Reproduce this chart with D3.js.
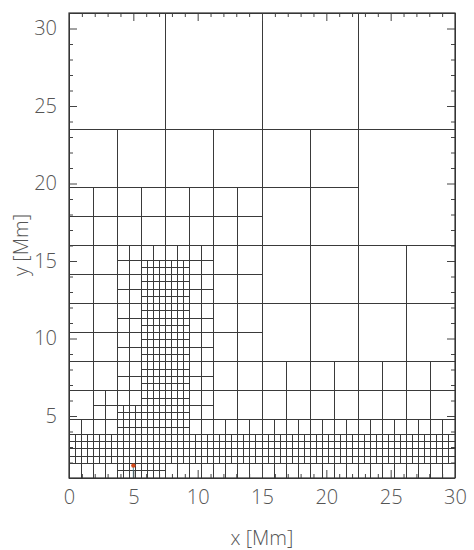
<!DOCTYPE html>
<html>
<head>
<meta charset="utf-8">
<script src="https://cdn.jsdelivr.net/npm/d3@7"></script>
<style>
  body { margin: 0; background: #fff; }
  .tick text { font-family: "Open Sans", sans-serif; font-weight: 300; fill: #555; }
  .domain { display: none; }
</style>
</head>
<body>
<svg id="chart" width="474" height="550"></svg>
<script>
// refinement patches: x0, x1, y0, y1 (Mm) and level (cell = 7.5 / 2^level)
const patchX0 = [0, 0, 0, 0, 0, 15, 3.75, 1.875, 0, 5.625, 3.75, 0, 3.75];
const patchX1 = [30, 22.5, 30, 15, 15, 30, 11.25, 3.75, 30, 9.375, 5.625, 30, 7.5];
const patchY0 = [1, 16, 1, 16, 1, 1, 4.75, 4.75, 1, 3.8125, 3.8125, 1.9375, 1];
const patchY1 = [31, 23.5, 16, 19.75, 16, 8.5, 16, 6.625, 4.75, 15.0625, 5.6875, 3.8125, 1.9375];
const patchLevel = [0, 1, 1, 2, 2, 2, 3, 3, 3, 4, 4, 4, 4];

const markerX = [5.0];
const markerY = [1.8];

const xTicks = [0, 5, 10, 15, 20, 25, 30];
const yTicks = [5, 10, 15, 20, 25, 30];

const M = { LEFT: 69, RIGHT: 455, TOP: 13, BOTTOM: 478 };
const svg = d3.select("#chart");

const x = d3.scaleLinear().domain([0, 30]).range([M.LEFT, M.RIGHT]);
const y = d3.scaleLinear().domain([1, 31]).range([M.BOTTOM, M.TOP]);

const grid = svg.append("g").attr("stroke", "#3a3a3a").attr("stroke-width", 1)
  .attr("shape-rendering", "crispEdges");

patchLevel.forEach((lvl, i) => {
  const s = 7.5 / Math.pow(2, lvl);
  const x0 = patchX0[i], x1 = patchX1[i], y0 = patchY0[i], y1 = patchY1[i];
  const nx = Math.round((x1 - x0) / s), ny = Math.round((y1 - y0) / s);
  d3.range(nx + 1).forEach(k => {
    const xv = x0 + k * s;
    grid.append("line").attr("x1", x(xv)).attr("x2", x(xv)).attr("y1", y(y0)).attr("y2", y(y1));
  });
  d3.range(ny + 1).forEach(k => {
    const yv = y0 + k * s;
    grid.append("line").attr("x1", x(x0)).attr("x2", x(x1)).attr("y1", y(yv)).attr("y2", y(yv));
  });
});

// marker
svg.append("line").attr("x1", x(markerX[0])).attr("x2", x(markerX[0]))
  .attr("y1", y(markerY[0])).attr("y2", y(1)).attr("stroke", "#4a8a9a").attr("stroke-width", 1);
svg.selectAll(".mark").data(markerX).join("circle")
  .attr("cx", d => x(d)).attr("cy", (d, i) => y(markerY[i])).attr("r", 2.2).attr("fill", "#d44a1a");

// axes, ticks pointing inward
function axes(axisFn, scale, major, transform, labels) {
  const minor = d3.range(scale.domain()[0], scale.domain()[1] + 0.01, 1).filter(v => v % 5 !== 0);
  svg.append("g").attr("transform", transform)
    .call(axisFn(scale).tickValues(minor).tickSize(-4).tickFormat(""))
    .selectAll("line").attr("stroke", "#444");
  const g = svg.append("g").attr("transform", transform)
    .call(axisFn(scale).tickValues(major).tickSize(-8).tickPadding(12)
      .tickFormat(labels ? d3.format("d") : ""));
  g.selectAll("line").attr("stroke", "#444");
  g.selectAll("text").style("font-size", "20px");
}
axes(d3.axisBottom, x, xTicks, `translate(0,${M.BOTTOM})`, true);
axes(d3.axisTop, x, xTicks, `translate(0,${M.TOP})`, false);
axes(d3.axisLeft, y, yTicks, `translate(${M.LEFT},0)`, true);
axes(d3.axisRight, y, yTicks, `translate(${M.RIGHT},0)`, false);

svg.append("rect").attr("x", M.LEFT).attr("y", M.TOP)
  .attr("width", M.RIGHT - M.LEFT).attr("height", M.BOTTOM - M.TOP)
  .attr("fill", "none").attr("stroke", "#333").attr("stroke-width", 1.2);

svg.append("text").attr("x", 262).attr("y", 545).attr("text-anchor", "middle")
  .style("font-family", "'Open Sans', sans-serif").style("font-weight", 300)
  .style("font-size", "20px").attr("fill", "#555").text("x [Mm]");
svg.append("text").attr("transform", "translate(28,245) rotate(-90)").attr("text-anchor", "middle")
  .style("font-family", "'Open Sans', sans-serif").style("font-weight", 300)
  .style("font-size", "20px").attr("fill", "#555").text("y [Mm]");
</script>
</body>
</html>
